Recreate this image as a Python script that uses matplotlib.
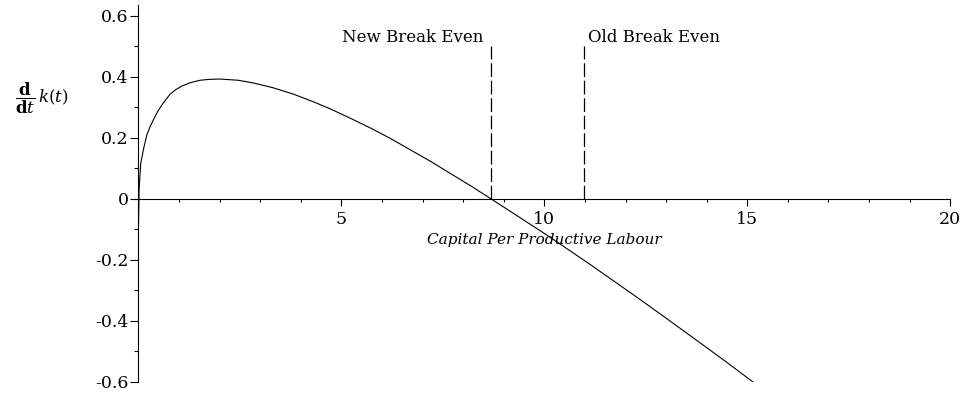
import matplotlib
matplotlib.use("Agg")
import matplotlib.pyplot as plt

plt.rcParams["font.family"] = "DejaVu Serif"
plt.rcParams["mathtext.fontset"] = "dejavuserif"
plt.rcParams["axes.unicode_minus"] = False

# curve: capital per productive labour vs dk/dt
capital = [0.0, 0.02, 0.06, 0.13, 0.21, 0.29, 0.37, 0.47, 0.58, 0.78, 0.92,
           1.07, 1.28, 1.52, 1.75, 2.0, 2.23, 2.46, 2.84, 3.33, 3.83, 4.32,
           4.73, 5.2, 5.71, 6.2, 6.70, 7.2, 7.68, 8.2, 8.69, 9.41, 10.0,
           10.47, 11.1, 11.70, 12.3, 12.94, 13.5, 14.09, 14.6, 15.2]
dk_dt = [-0.12, 0.035, 0.117, 0.165, 0.21, 0.237, 0.259, 0.285, 0.308, 0.343,
         0.358, 0.370, 0.381, 0.389, 0.392, 0.393, 0.391, 0.389, 0.380, 0.364,
         0.343, 0.318, 0.295, 0.266, 0.233, 0.199, 0.161, 0.123, 0.084, 0.042,
         0.0, -0.062, -0.113, -0.155, -0.212, -0.268, -0.324, -0.385, -0.439,
         -0.496, -0.546, -0.606]

# break-even markers
break_even_k = [8.69, 10.98]
break_even_names = ["New Break Even", "Old Break Even"]
break_even_top = 0.5

x_major = [5, 10, 15, 20]
x_labels = ["5", "10", "15", "20"]
y_major = [-0.6, -0.4, -0.2, 0, 0.2, 0.4, 0.6]
y_labels = ["-0.6", "-0.4", "-0.2", "0", "0.2", "0.4", "0.6"]
x_minor = list(range(1, 21))
y_minor = [-0.5, -0.3, -0.1, 0.1, 0.3, 0.5]

fig = plt.figure(figsize=(9.68, 4.0), dpi=100)
ax = fig.add_axes([0.1429, 0.045, 0.8388, 0.942])

ax.plot(capital, dk_dt, color="black", lw=0.8)

for k in break_even_k:
    ax.plot([k, k], [0, break_even_top], color="black", lw=0.9,
            linestyle=(0, (11, 3)))
ax.text(break_even_k[0] - 0.2, 0.513, break_even_names[0], ha="right",
        va="baseline", fontsize=12)
ax.text(break_even_k[1] + 0.1, 0.513, break_even_names[1], ha="left",
        va="baseline", fontsize=12)

ax.set_xlim(0, 20)
ax.set_ylim(-0.6, 0.635)

# Maple style axes crossing at the origin
for side in ["top", "right"]:
    ax.spines[side].set_visible(False)
ax.spines["bottom"].set_position("zero")
ax.spines["left"].set_position("zero")
ax.spines["bottom"].set_bounds(0, 20)
ax.spines["left"].set_bounds(-0.6, 0.635)
for sp in ax.spines.values():
    sp.set_linewidth(0.8)

ax.set_xticks(x_major)
ax.set_xticklabels(x_labels)
ax.set_xticks(x_minor, minor=True)
ax.set_yticks(y_major)
ax.set_yticklabels(y_labels)
ax.set_yticks(y_minor, minor=True)
ax.tick_params(axis="x", which="major", direction="out", length=5, width=0.8,
               pad=4, labelsize=12.5)
ax.tick_params(axis="x", which="minor", direction="out", length=2.5, width=0.8)
ax.tick_params(axis="y", which="major", direction="out", length=6, width=0.8,
               pad=1, labelsize=12.5)
ax.tick_params(axis="y", which="minor", direction="out", length=3, width=0.8)
ax.patch.set_visible(False)

ax.text(10, -0.135, "Capital Per Productive Labour", ha="center", va="center",
        fontsize=11, style="italic")
fig.text(42 / 968, 1 - 98 / 400, r"$\dfrac{\mathbf{d}}{\mathbf{d}t}\,k(t)$",
         ha="center", va="center", fontsize=12)

fig.savefig("out.png", dpi=100)
